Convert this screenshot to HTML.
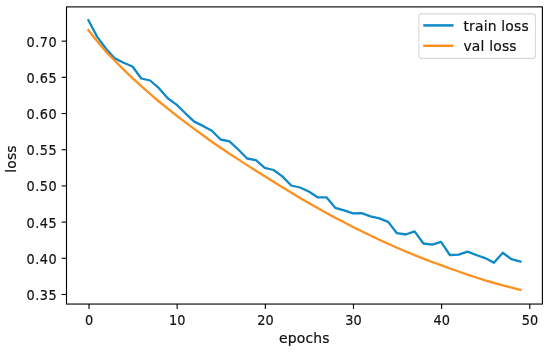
<!DOCTYPE html>
<html><head><meta charset="utf-8"><title>loss plot</title>
<style>
html,body{margin:0;padding:0;background:#fff;}
svg{display:block;filter:blur(0.3px);}
text{font-family:"DejaVu Sans","Liberation Sans",sans-serif;font-size:13.89px;fill:#111;stroke:#111;stroke-width:0.2px;}
.tk{letter-spacing:0.5px;}
.lt{letter-spacing:0.2px;}
</style></head><body>
<svg width="550" height="353" viewBox="0 0 550 353">
<rect x="0" y="0" width="550" height="353" fill="#ffffff"/>
<clipPath id="c"><rect x="66.5" y="6.9" width="475.9" height="297.15000000000003"/></clipPath>
<g clip-path="url(#c)" fill="none" stroke-width="2.3" stroke-linejoin="round" stroke-linecap="square">
<polyline stroke="#0f89c7" points="88.40,20.20 97.22,36.90 106.03,48.70 114.85,58.40 123.66,62.80 132.48,66.50 141.30,78.50 150.11,80.50 158.93,88.20 167.74,98.20 176.56,104.60 185.38,113.30 194.19,121.60 203.01,125.90 211.82,130.80 220.64,139.50 229.46,141.30 238.27,149.50 247.09,158.50 255.90,160.20 264.72,167.90 273.54,170.00 282.35,176.40 291.17,185.50 299.98,187.50 308.80,191.50 317.62,197.30 326.43,197.30 335.25,207.80 344.06,210.40 352.88,213.30 361.70,213.10 370.51,216.40 379.33,218.40 388.14,221.90 396.96,233.20 405.78,234.50 414.59,231.40 423.41,243.50 432.22,244.60 441.04,241.90 449.86,255.00 458.67,254.60 467.49,251.70 476.30,255.00 485.12,258.10 493.94,262.80 502.75,252.80 511.57,259.20 520.38,261.50"/>
<polyline stroke="#ff9020" points="88.40,30.20 97.22,41.20 106.03,51.70 114.85,60.80 123.66,69.60 132.48,78.10 141.30,86.20 150.11,94.00 158.93,101.50 167.74,108.70 176.56,115.60 185.38,122.40 194.19,128.90 203.01,135.30 211.82,141.70 220.64,147.70 229.46,153.70 238.27,159.40 247.09,165.10 255.90,170.70 264.72,176.30 273.54,181.80 282.35,187.20 291.17,192.60 299.98,197.90 308.80,203.10 317.62,208.10 326.43,213.00 335.25,217.70 344.06,222.30 352.88,226.90 361.70,231.30 370.51,235.50 379.33,239.70 388.14,243.80 396.96,247.70 405.78,251.50 414.59,255.10 423.41,258.60 432.22,262.00 441.04,265.20 449.86,268.50 458.67,271.50 467.49,274.60 476.30,277.50 485.12,280.30 493.94,282.80 502.75,285.30 511.57,287.60 520.38,289.90"/>
</g>
<g stroke="#000" stroke-width="1.11" fill="none">
<rect x="66.5" y="6.9" width="475.9" height="297.15000000000003"/>

<line x1="61.64" y1="41.15" x2="66.5" y2="41.15"/>
<line x1="61.64" y1="77.34" x2="66.5" y2="77.34"/>
<line x1="61.64" y1="113.53" x2="66.5" y2="113.53"/>
<line x1="61.64" y1="149.72" x2="66.5" y2="149.72"/>
<line x1="61.64" y1="185.91" x2="66.5" y2="185.91"/>
<line x1="61.64" y1="222.10" x2="66.5" y2="222.10"/>
<line x1="61.64" y1="258.29" x2="66.5" y2="258.29"/>
<line x1="61.64" y1="294.48" x2="66.5" y2="294.48"/>
<line x1="89.00" y1="304.05" x2="89.00" y2="308.91"/>
<line x1="177.16" y1="304.05" x2="177.16" y2="308.91"/>
<line x1="265.32" y1="304.05" x2="265.32" y2="308.91"/>
<line x1="353.48" y1="304.05" x2="353.48" y2="308.91"/>
<line x1="441.64" y1="304.05" x2="441.64" y2="308.91"/>
<line x1="529.80" y1="304.05" x2="529.80" y2="308.91"/>
</g>
<text class="tk" transform="translate(57.10,46.60) scale(0.93,1)" text-anchor="end">0.70</text>
<text class="tk" transform="translate(57.10,82.79) scale(0.93,1)" text-anchor="end">0.65</text>
<text class="tk" transform="translate(57.10,118.98) scale(0.93,1)" text-anchor="end">0.60</text>
<text class="tk" transform="translate(57.10,155.17) scale(0.93,1)" text-anchor="end">0.55</text>
<text class="tk" transform="translate(57.10,191.36) scale(0.93,1)" text-anchor="end">0.50</text>
<text class="tk" transform="translate(57.10,227.55) scale(0.93,1)" text-anchor="end">0.45</text>
<text class="tk" transform="translate(57.10,263.74) scale(0.93,1)" text-anchor="end">0.40</text>
<text class="tk" transform="translate(57.10,299.93) scale(0.93,1)" text-anchor="end">0.35</text>
<text transform="translate(89.10,324.57) scale(0.93,1)" text-anchor="middle">0</text>
<text transform="translate(177.26,324.57) scale(0.93,1)" text-anchor="middle">10</text>
<text transform="translate(265.42,324.57) scale(0.93,1)" text-anchor="middle">20</text>
<text transform="translate(353.58,324.57) scale(0.93,1)" text-anchor="middle">30</text>
<text transform="translate(441.74,324.57) scale(0.93,1)" text-anchor="middle">40</text>
<text transform="translate(529.90,324.57) scale(0.93,1)" text-anchor="middle">50</text>
<text x="304.45" y="343.3" text-anchor="middle" class="lt">epochs</text>
<text transform="translate(15.7,159.07) rotate(-90)" text-anchor="middle" class="lt">loss</text>
<rect x="418.9" y="13.9" width="116.6" height="44.5" rx="2.8" ry="2.8" fill="#fff" fill-opacity="0.8" stroke="#d9d9d9" stroke-width="1.11"/>
<line x1="424.5" y1="25.4" x2="452.3" y2="25.4" stroke="#0f89c7" stroke-width="2.5" stroke-linecap="square"/>
<line x1="424.5" y1="45.8" x2="452.3" y2="45.8" stroke="#ff9020" stroke-width="2.5" stroke-linecap="square"/>
<text x="463.4" y="31.0" class="lt">train loss</text>
<text x="463.4" y="51.1" class="lt">val loss</text>
</svg></body></html>
